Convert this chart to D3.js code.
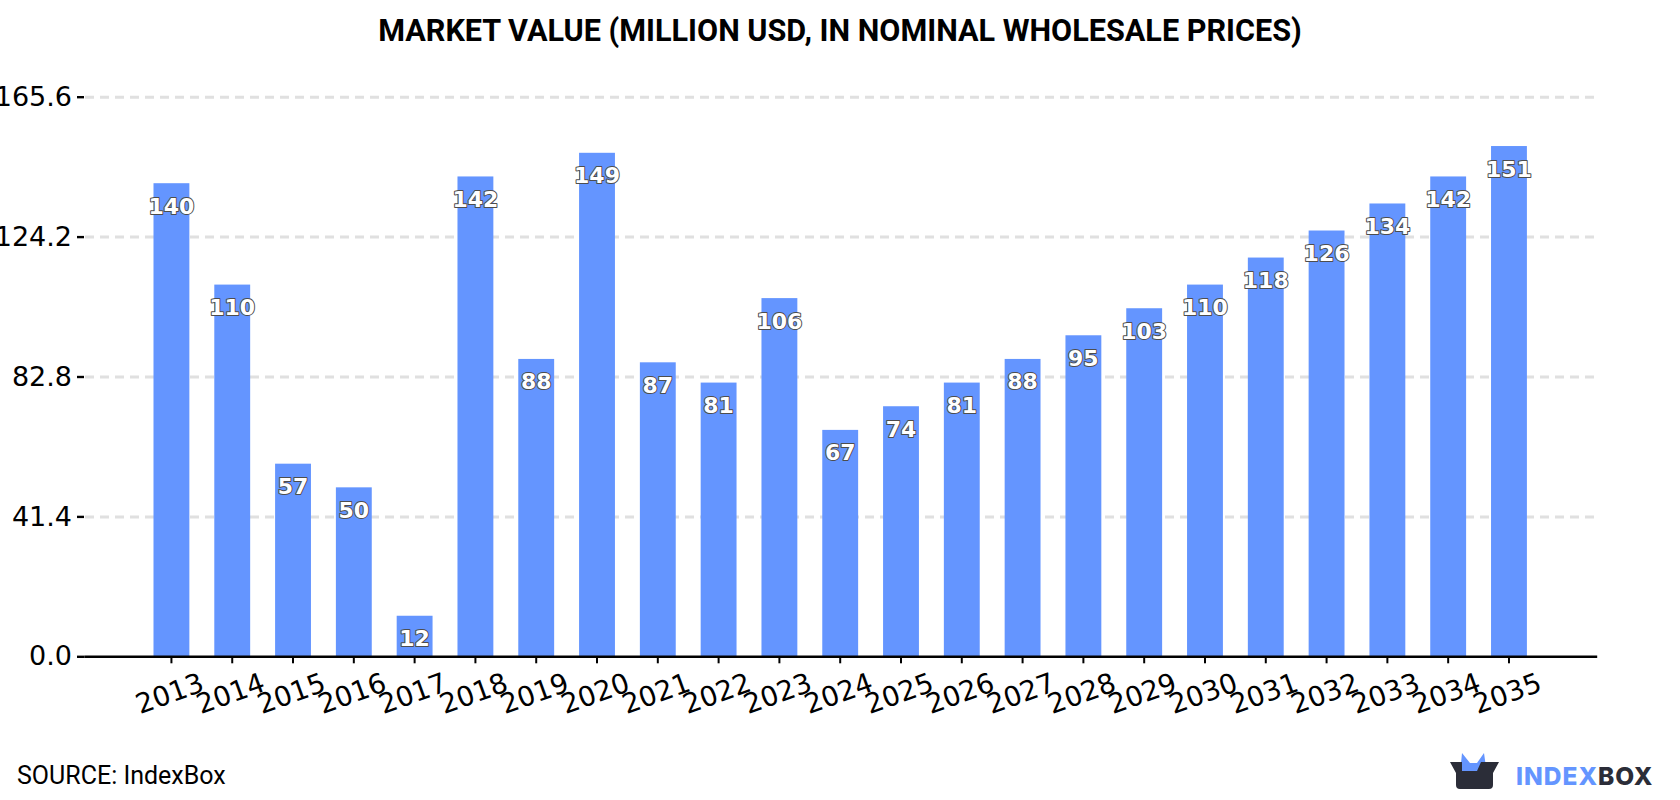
<!DOCTYPE html>
<html>
<head>
<meta charset="utf-8">
<script src="https://cdn.jsdelivr.net/npm/d3@7"></script>
<style>
html,body{margin:0;padding:0;background:#fff;overflow:hidden}
svg{display:block}
.title{font:700 30.6px Roboto,sans-serif;fill:#000}
.tick text{font-family:"DejaVu Sans",sans-serif;font-size:27.5px;fill:#000}
.val{font:700 22px "DejaVu Sans",sans-serif;fill:#fff;stroke:#4d4d4d;stroke-width:2px;paint-order:stroke;stroke-linejoin:round}
.src{font:400 25px Roboto,sans-serif;fill:#000}
.brand{font:800 24.5px Inter,Roboto,sans-serif;letter-spacing:1px}
</style>
</head>
<body>
<svg id="c" width="1680" height="800"></svg>
<script>
// Market value by year, million USD
const years = d3.range(2013, 2036).map(String);
const values = [140,110,57,50,12,142,88,149,87,81,106,67,74,81,88,95,103,110,118,126,134,142,151];
const yTicks = [0, 41.4, 82.8, 124.2, 165.6];

const svg = d3.select("#c");
const x = d3.scaleBand().domain(years).range([83.7, 1596.7]).paddingInner(0.41).paddingOuter(1.148);
const y = d3.scaleLinear().domain([0, 165.6]).range([656.3, 96.7]);

svg.append("text").attr("class","title").attr("x",840).attr("y",41).attr("text-anchor","middle")
  .text("MARKET VALUE (MILLION USD, IN NOMINAL WHOLESALE PRICES)");

// Value axis with dashed grid lines
const yAxis = svg.append("g").attr("transform","translate(84,0)")
  .call(d3.axisLeft(y).tickValues(yTicks).tickFormat(d3.format(".1f")).tickSize(7).tickPadding(5));
yAxis.select(".domain").remove();
yAxis.selectAll(".tick line").attr("stroke","#000").attr("stroke-width",2.4);
yAxis.selectAll(".tick text").style("font-size","27px");
yAxis.selectAll(".tick").filter(d => d > 0).append("line")
  .attr("x1",1).attr("x2",1513).attr("stroke","#e0e0e0").attr("stroke-width",3).attr("stroke-dasharray","9 6");

// Bars
svg.append("g").selectAll("rect").data(values).join("rect")
  .attr("x",(d,i)=>x(years[i])).attr("width",x.bandwidth())
  .attr("y",d=>y(d)).attr("height",d=>y(0)-y(d)).attr("fill","#6495ff");

// Category axis with slanted year labels
const xAxis = svg.append("g").attr("transform","translate(0,656.3)")
  .call(d3.axisBottom(x).tickSize(7).tickSizeOuter(0));
xAxis.select(".domain").attr("stroke","#000").attr("stroke-width",2.6);
xAxis.selectAll(".tick line").attr("stroke","#000").attr("stroke-width",2);
xAxis.selectAll(".tick text").attr("text-anchor","middle").attr("dy",0).attr("y",0)
  .attr("transform","translate(1.5,46) rotate(-20)");

// Value labels just inside the top of each bar
svg.append("g").selectAll("text").data(values).join("text").attr("class","val")
  .attr("text-anchor","middle").attr("x",(d,i)=>x(years[i])+x.bandwidth()/2)
  .attr("y",d=>y(d)+30.5).text(d=>d);

svg.append("text").attr("class","src").attr("x",17).attr("y",784).text("SOURCE: IndexBox");

// Brand mark and wordmark
const logo = svg.append("g").attr("transform","translate(1450,752)");
logo.append("path").attr("fill","#6495ff").attr("d","M12 1 L20 11 L27 11 L34 1 L37 22 L10 22 Z");
logo.append("path").attr("fill","#2b2d38").attr("d","M0 10 L12 10 L12 19 L27 19 L31 10 L49 10 L43 21 L43 33 Q43 37 39 37 L10 37 Q6 37 6 33 L6 21 Z");
const brand = svg.append("text").attr("class","brand").attr("x",1516).attr("y",785);
brand.append("tspan").attr("fill","#6495ff").text("INDEX");
brand.append("tspan").attr("fill","#2b2d38").text("BOX");
</script>
</body>
</html>
